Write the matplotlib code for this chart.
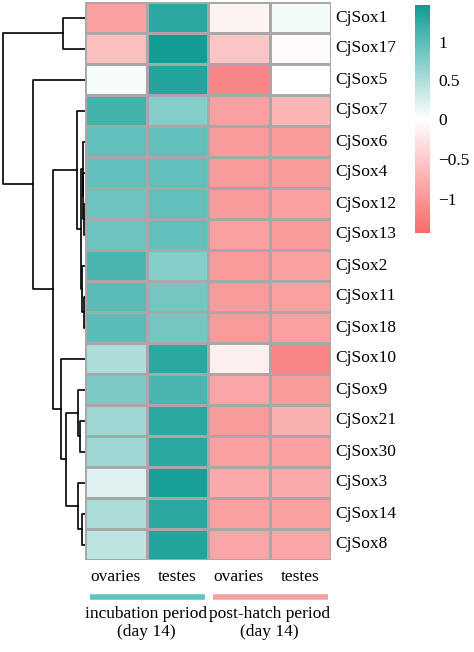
import matplotlib
matplotlib.use("Agg")
import matplotlib.pyplot as plt
import numpy as np
from matplotlib.colors import LinearSegmentedColormap

genes = ["CjSox1", "CjSox17", "CjSox5", "CjSox7", "CjSox6", "CjSox4", "CjSox12",
         "CjSox13", "CjSox2", "CjSox11", "CjSox18", "CjSox10", "CjSox9", "CjSox21",
         "CjSox30", "CjSox3", "CjSox14", "CjSox8"]
columns = ["ovaries", "testes", "ovaries", "testes"]
groups = ["incubation period\n(day 14)", "post-hatch period\n(day 14)"]

incubation_ovaries = [-0.9, -0.6, 0.05, 1.15, 0.95, 0.95, 0.9, 0.9, 1.1, 1.0, 1.0, 0.5, 0.8, 0.6, 0.6, 0.2, 0.5, 0.4]
incubation_testes = [1.3, 1.45, 1.35, 0.75, 0.95, 0.95, 0.95, 0.95, 0.75, 0.85, 0.85, 1.3, 1.1, 1.3, 1.3, 1.4, 1.3, 1.35]
posthatch_ovaries = [-0.12, -0.55, -1.15, -0.9, -0.95, -0.95, -0.95, -0.9, -0.95, -0.95, -0.95, -0.15, -0.85, -0.95, -0.9, -0.8, -0.9, -0.85]
posthatch_testes = [0.08, -0.05, 0.0, -0.7, -0.95, -0.95, -0.9, -0.95, -0.9, -0.9, -0.9, -1.15, -0.95, -0.75, -0.9, -0.8, -0.9, -0.85]

# row dendrogram as nested (left, right, height); leaves are row indices
n12_13 = (6, 7, 1)
n4_13 = (5, n12_13, 1.5)
n6_13 = (4, n4_13, 2)
n11_18 = (9, 10, 1)
n2_18 = (8, n11_18, 3)
n7 = (3, (n6_13, n2_18, 4), 8)
n21_30 = (13, 14, 5)
n9 = (12, n21_30, 7)
n14_8 = (16, 17, 3)
n3 = (15, n14_8, 7)
n10 = (11, (n9, n3, 18), 23)
n5 = (2, (n7, n10, 31), 50)
n1 = (0, 1, 21)
tree = (n1, n5, 79)

cmap = LinearSegmentedColormap.from_list("rw", ["#F86A6A", "#FFFFFF", "#0E9C94"])
norm = matplotlib.colors.TwoSlopeNorm(vcenter=0, vmin=-1.42, vmax=1.48)

W, H = 474, 652
plt.rcParams["font.family"] = ["Liberation Serif", "DejaVu Serif"]
fig = plt.figure(figsize=(W / 100, H / 100), dpi=100)


def box(x0, y0, x1, y1):
    return [x0 / W, 1 - y1 / H, (x1 - x0) / W, (y1 - y0) / H]


data = np.array([incubation_ovaries, incubation_testes, posthatch_ovaries, posthatch_testes]).T
n = len(genes)

ax = fig.add_axes(box(85, 2, 331, 560))
ax.pcolormesh(data, cmap=cmap, norm=norm, edgecolors="#a8a8a8", linewidth=1)
ax.set_xlim(0, 4)
ax.set_ylim(n, 0)
ax.set_xticks([])
ax.set_yticks([])
for s in ax.spines.values():
    s.set_visible(False)
for i, g in enumerate(genes):
    ax.text(4.07, i + 0.5, g, va="center", ha="left", fontsize=12.5)
for j, c in enumerate(columns):
    ax.text(j + 0.5, n + 0.55, c, va="center", ha="center", fontsize=12.5)

# dendrogram
dax = fig.add_axes(box(0, 2, 85, 560))
dax.set_ylim(n, 0)
dax.set_xlim(82, 0)
dax.axis("off")


def draw(node):
    if isinstance(node, int):
        return node + 0.5, 0
    left, right, h = node
    yl, hl = draw(left)
    yr, hr = draw(right)
    dax.plot([hl, h, h, hr], [yl, yl, yr, yr], color="black", lw=1.2)
    return (yl + yr) / 2, h


draw(tree)

# group bars and labels
bar_colors = ["#5CC6C0", "#F7A0A0"]
gax = fig.add_axes(box(85, 590, 331, 645))
gax.set_xlim(0, 4)
gax.set_ylim(1, 0)
gax.axis("off")
for k, (g, col) in enumerate(zip(groups, bar_colors)):
    gax.plot([2 * k + 0.08, 2 * k + 1.95], [0.12, 0.12], color=col, lw=4, solid_capstyle="butt")
    gax.text(2 * k + 1.0, 0.3, g, ha="center", va="top", fontsize=12.5, linespacing=1.1)

# colorbar
cax = fig.add_axes(box(415, 5, 430, 233))
sm = matplotlib.cm.ScalarMappable(norm=norm, cmap=cmap)
cb = fig.colorbar(sm, cax=cax, ticks=[-1, -0.5, 0, 0.5, 1])
cb.outline.set_visible(False)
cb.ax.tick_params(length=0, labelsize=12.5, pad=6)
cb.ax.set_yticklabels(["\u22121", "\u22120.5", "0", "0.5", "1"])

fig.savefig("out.png", dpi=100)
